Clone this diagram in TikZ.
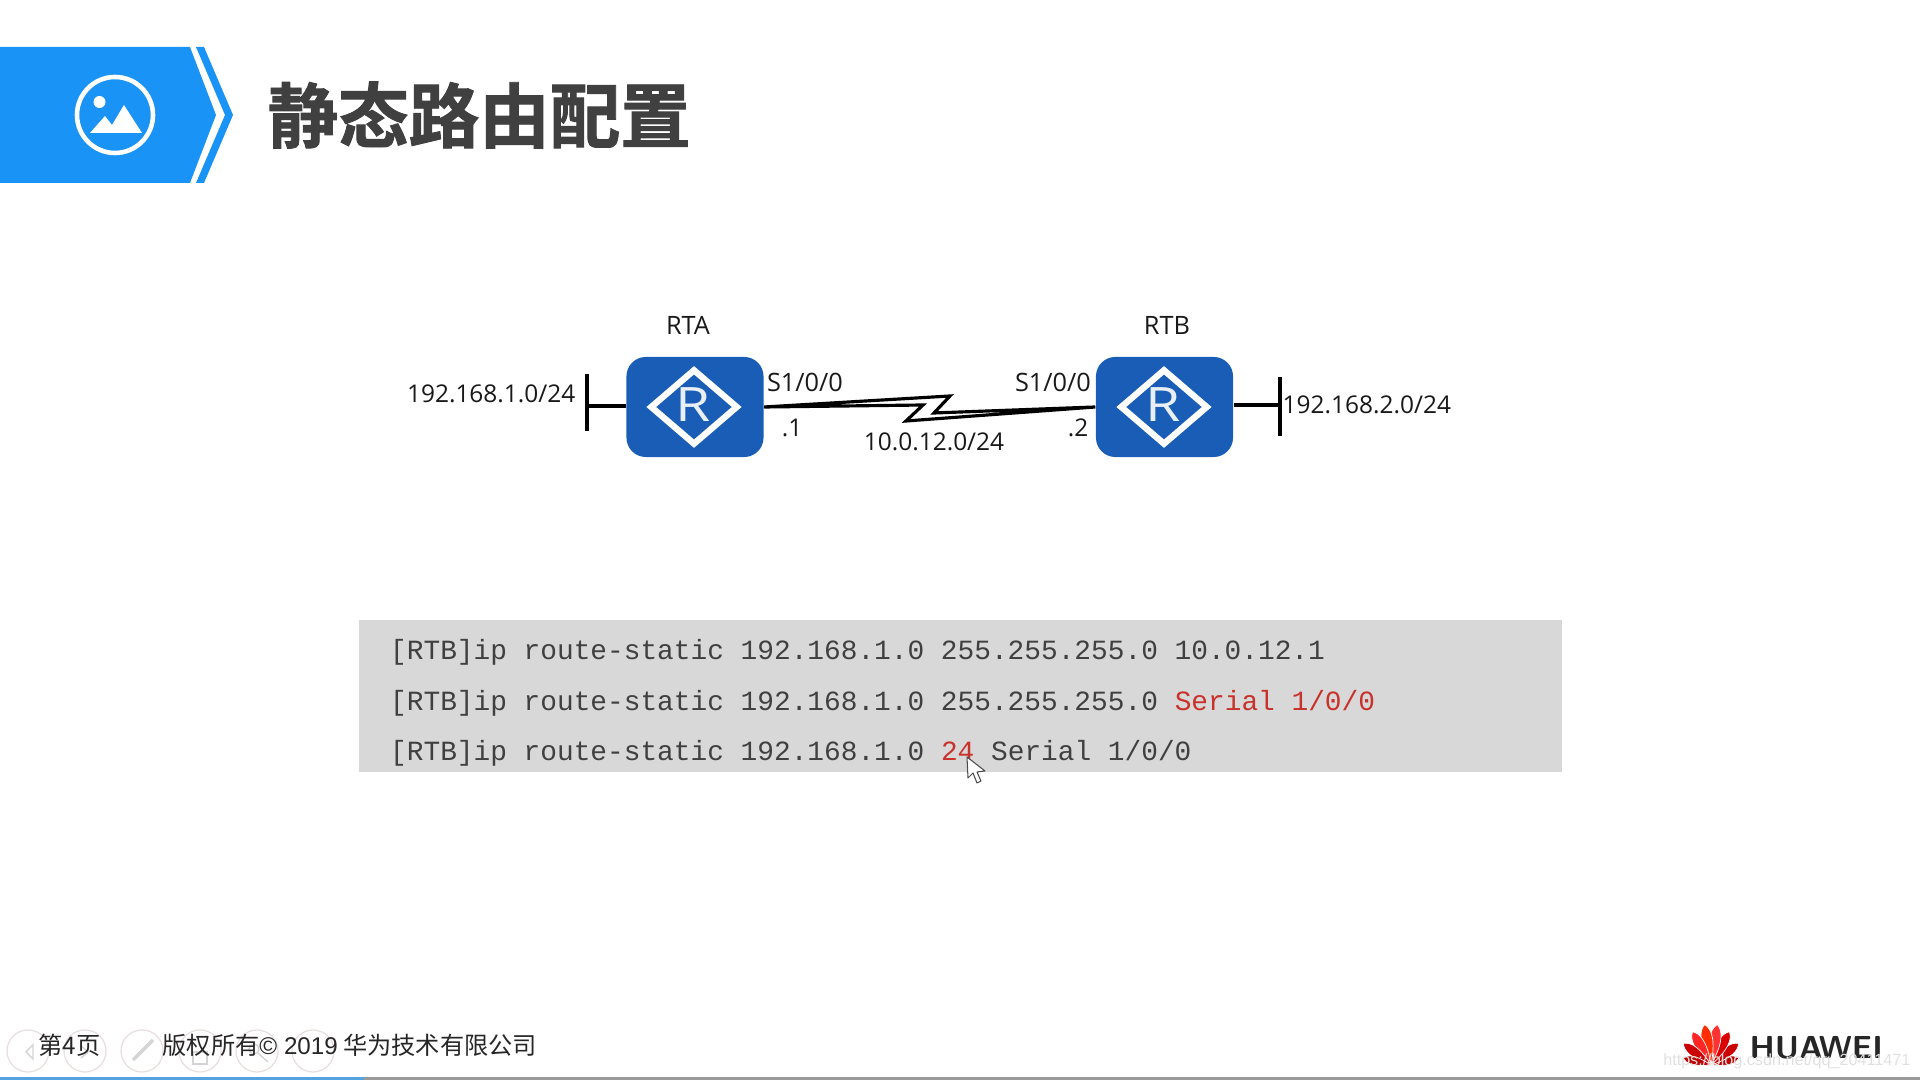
\documentclass[tikz,border=0pt]{standalone}
\usepackage{fontspec}
\setmainfont{Open Sans}
\setmonofont{Liberation Mono}
\newfontfamily\cjkfont{Noto Sans CJK SC}
\newfontfamily\cjkbold[FakeBold=1.3]{Noto Sans CJK SC Bold}
\newfontfamily\footfont{Liberation Sans}
\usepackage{tikz}
\usetikzlibrary{calc}
\usetikzlibrary{positioning}
\usetikzlibrary{shapes.geometric}

\definecolor{bannerblue}{HTML}{1993F5}
\definecolor{routerblue}{HTML}{1A5DB7}
\definecolor{titlegrey}{HTML}{404040}
\definecolor{codegrey}{HTML}{D8D8D8}
\definecolor{codered}{HTML}{C8322B}
\definecolor{buttonline}{HTML}{E8DEDE}
\definecolor{buttonicon}{HTML}{D4D4D4}

\tikzset{
	routerbox/.style={draw=none, fill=routerblue, rounded corners=5.5pt, minimum width=1.37cm, minimum height=1cm, inner sep=0pt},
	routermark/.style={draw=white, line width=1.8pt, diamond, aspect=1.15, minimum width=0.88cm, minimum height=0.76cm, inner sep=0pt},
	routerletter/.style={inner sep=0pt, text=white!90!routerblue, xscale=1.2, font=\fontsize{13.5}{14}\selectfont},
	netlabel/.style={inner sep=0pt, text=black!90, font=\fontsize{7.2}{8}\selectfont},
	iplabel/.style={inner sep=0pt, text=black!90, font=\fontsize{6.95}{8}\selectfont},
	barline/.style={line width=1.4pt, black},
	codeline/.style={inner sep=0pt, anchor=west, text=black!75, font=\ttfamily\fontsize{7.91}{9}\selectfont},
	footbutton/.style={draw=buttonline, line width=0.35pt, circle, minimum size=0.42cm, inner sep=0pt},
	footicon/.style={draw=buttonicon, line width=0.4pt},
	footlabel/.style={inner sep=0pt, anchor=west, text=black!85, font=\cjkfont\fontsize{6.88}{8}\selectfont},
}

\begin{document}
\begin{tikzpicture}[x=0.01cm, y=-0.01cm]
	\useasboundingbox (0,0) rectangle (1920,1080);

	% banner
	\fill[bannerblue] (0,47) -- (190,47) -- (216,115) -- (190,183) -- (0,183) -- cycle;
	\fill[bannerblue] (196,47) -- (204,47) -- (233,115) -- (204,183) -- (196,183) -- (225,115) -- cycle;
	\draw[white, line width=1.3pt] (115,115) circle (38);
	\fill[white] (99.5,102) circle (6);
	\fill[white] (90,133) -- (105,116) -- (112,125) -- (124,105) -- (142,133) -- cycle;
	\node[inner sep=0pt, anchor=west, text=titlegrey, font=\cjkbold\fontsize{20.05}{22}\selectfont] (title) at (267,115) {静态路由配置};

	% routers
	\node[routerbox] (rta) at (695,407) {};
	\node[routerbox] (rtb) at (1164.5,407) {};
	\node[routermark] (rtamark) at (694,407) {};
	\node[routermark] (rtbmark) at (1164,407) {};
	\node[routerletter] (rtaletter) at (693,405) {R};
	\node[routerletter] (rtbletter) at (1163,405) {R};

	\node[netlabel] (rtalabel) at (688,325) {RTA};
	\node[netlabel] (rtblabel) at (1167,325) {RTB};
	\node[iplabel, anchor=east] (neta) at (576,394) {192.168.1.0/24};
	\node[iplabel, anchor=west] (netb) at (1282,405) {192.168.2.0/24};
	\node[netlabel] (sa) at (805,382) {S1/0/0};
	\node[netlabel] (sb) at (1053,382) {S1/0/0};
	\node[iplabel] (ipa) at (792,428) {.1};
	\node[iplabel] (ipb) at (1078,428) {.2};
	\node[iplabel] (netlink) at (934,442) {10.0.12.0/24};

	% networks
	\coordinate (bara) at (587,406);
	\coordinate (barb) at (1280,405);
	\draw[barline] (587,374) -- (587,431);
	\draw[barline] (1280,377) -- (1280,436);
	\draw[barline] (bara) -- (rta.west |- bara);
	\draw[barline] (barb) -- (rtb.east |- barb);

	% serial link
	\coordinate (zigA) at (950,396);
	\coordinate (zigB) at (934,413);
	\coordinate (zigC) at (923,405);
	\coordinate (zigD) at (906,421);
	\draw[line width=0.9pt, line join=miter, black] (rta.east) -- (zigC) -- (zigD) -- (rtb.west) -- (zigB) -- (zigA) -- cycle;

	% commands
	\fill[codegrey] (359,620) rectangle (1562,772);
	\node[codeline] (cmd1) at (389.5,652) {[RTB]ip route-static 192.168.1.0 255.255.255.0 10.0.12.1};
	\node[codeline] (cmd2) at (389.5,703) {[RTB]ip route-static 192.168.1.0 255.255.255.0 \textcolor{codered}{Serial 1/0/0}};
	\node[codeline] (cmd3) at (389.5,753) {[RTB]ip route-static 192.168.1.0 \textcolor{codered}{24} Serial 1/0/0};

	% cursor
	\draw[line width=0.3pt, black!70, fill=white, line join=round] (967,757) -- (968,778) -- (973,773) -- (977,783) -- (981,781) -- (977,772) -- (985,771) -- cycle;

	% footer
	\foreach \i/\x in {1/28, 2/85, 3/142, 4/200, 5/257, 6/313}
		\node[footbutton] (btn\i) at (\x,1051) {};
	\draw[footicon] (33,1045) -- (26,1052) -- (33,1059) -- cycle;
	\draw[footicon] (81,1046) -- (88,1052) -- (81,1058);
	\draw[footicon, line width=1pt] (133,1060) -- (153,1040);
	\draw[footicon] (193,1052) rectangle (207,1064);
	\draw[footicon] (254,1049) circle (5);
	\draw[footicon] (258,1053) -- (268,1062);
	\node[footlabel] (page) at (38,1045) {第4页};
	\node[footlabel] (copy) at (162,1045) {版权所有{\footfont\textcopyright{} 2019} 华为技术有限公司};
	\fill[black!40] (364,1077.5) rectangle (1920,1080);
	\fill[cyan!70!blue!70] (0,1077.5) rectangle (364,1080);

	% logo
	\foreach \a/\l/\c in {-76/29/red!75!black, -52/35/red!80!black, -29/38/red!85!black, -9/41/red!80, 9/41/red!65!orange, 29/38/red!85, 52/35/red!80!black, 76/29/red!75!black}
		\fill[\c, draw=white, line width=0.2pt, rotate around={\a:(1711,1065)}] (1711,1065) .. controls (1711-0.2*\l,1065-0.55*\l) and (1711-0.17*\l,1065-0.85*\l) .. (1711,1065-\l) .. controls (1711+0.17*\l,1065-0.85*\l) and (1711+0.2*\l,1065-0.55*\l) .. (1711,1065) -- cycle;
	\node[inner sep=0pt, anchor=west, text=black!85, font=\sffamily\bfseries\fontsize{9.05}{10}\selectfont] (huawei) at (1749,1048) {HUAWEI};
	\node[inner sep=0pt, anchor=east, text=black!12, font=\footfont\fontsize{4.6}{5}\selectfont] (mark) at (1911,1061) {https://blog.csdn.net/qq\_20411471};
\end{tikzpicture}
\end{document}
